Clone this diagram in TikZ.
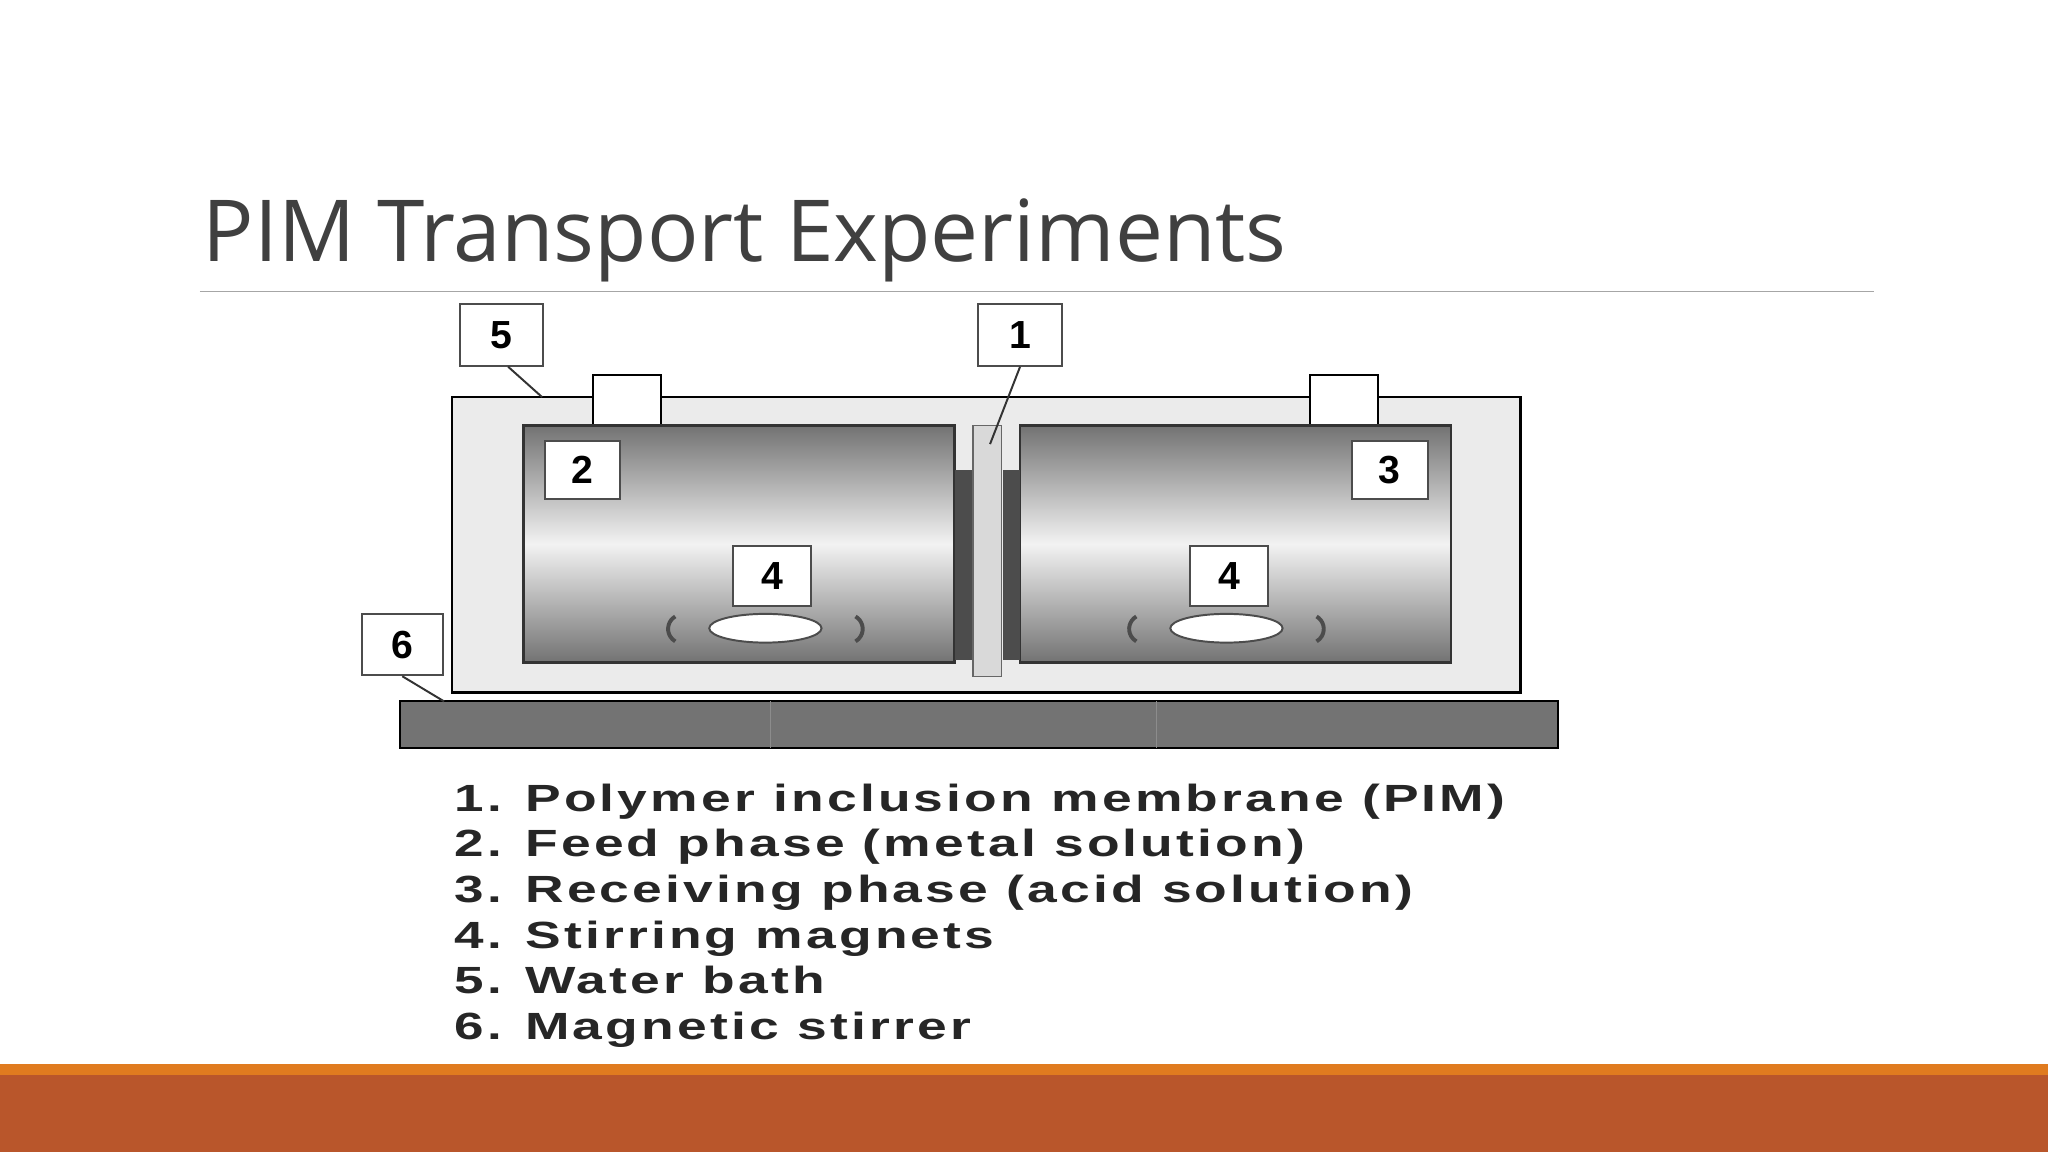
\documentclass[tikz,border=0pt]{standalone}
\usepackage{fontspec}
\setmainfont{Liberation Sans}
\newfontfamily\titlefont{Open Sans}
\definecolor{rust}{HTML}{B9562B}
\definecolor{orng}{HTML}{E07B1F}
\begin{document}
\begin{tikzpicture}[x=1pt,y=-1pt,
  lbl/.style={draw=black!70,line width=1.5pt,fill=white,minimum width=58pt,minimum height=44pt,inner sep=0pt,font=\fontsize{30}{30}\selectfont\bfseries},
  tank/.style={draw=black!80,line width=2pt,top color=black!55,bottom color=black!55,middle color=black!5},
  lead/.style={draw=black!80,line width=1.5pt},
  legt/.style={anchor=base west,inner sep=0pt,text=black!85,font=\fontsize{29}{29}\selectfont\bfseries}]
\useasboundingbox (0,0) rectangle (1568,882);
\fill[white] (0,0) rectangle (1568,882);
\node[anchor=base west,inner sep=0pt,text=black!75] (title) at (155,200) {\titlefont\fontsize{65.5}{66}\selectfont PIM Transport Experiments};
\draw[black!35,line width=1pt] (153,223) -- (1435,223);
\fill[orng] (0,815) rectangle (1568,823);
\fill[rust] (0,823) rectangle (1568,882);
% bath
\draw[fill=black!8,line width=2pt] (346,304) rectangle (1164,530);
\draw[fill=white,line width=2pt] (454,287) rectangle (506,326);
\draw[fill=white,line width=2pt] (1003,287) rectangle (1055,326);
\node[tank,minimum width=330pt,minimum height=181pt,inner sep=0pt] (lt) at (566,416.5) {};
\node[tank,minimum width=330pt,minimum height=181pt,inner sep=0pt] (rt) at (946,416.5) {};
\fill[black!70] (731,360) rectangle (744,505);
\fill[black!70] (768,360) rectangle (781,505);
\node[draw=black!60,fill=black!15,line width=1pt,minimum width=22pt,minimum height=192pt,inner sep=0pt] (mem) at (756,422) {};
% stirrer
\draw[fill=black!55,line width=1.5pt] (306,537) rectangle (1193,573);
\draw[black!45] (590,537)--(590,573) (885,537)--(885,573);
% magnets
\foreach \c in {586,939}{
  \draw[fill=white,draw=black!70,line width=1.5pt] (\c,481) ellipse (43pt and 11pt);
  \draw[black!70,line width=3pt] (\c-69,472) arc (120:240:11pt);
  \draw[black!70,line width=3pt] (\c+69,472) arc (60:-60:11pt);
}
% labels
\node[lbl,minimum width=64pt,minimum height=47pt] (l5) at (384,256.5) {5};
\node[lbl,minimum width=64pt,minimum height=47pt] (l1) at (781,256.5) {1};
\node[lbl] (l2) at (446,360) {2};
\node[lbl] (l3) at (1064,360) {3};
\node[lbl,minimum width=60pt,minimum height=46pt] (l4a) at (591,441) {4};
\node[lbl,minimum width=60pt,minimum height=46pt] (l4b) at (941,441) {4};
\node[lbl,minimum width=62pt,minimum height=47pt] (l6) at (308,493.5) {6};
\coordinate (p5) at (415,304);
\coordinate (p1) at (758,340);
\coordinate (p6) at (340,537);
\draw[lead] (l5.south) ++(5,0) -- (p5);
\draw[lead] (l1.south) -- (p1);
\draw[lead] (l6.south) -- (p6);
% legend
\foreach \i/\t in {1/{Polymer inclusion membrane (PIM)},2/{Feed phase (metal solution)},3/{Receiving phase (acid solution)},4/{Stirring magnets},5/{Water bath},6/{Magnetic stirrer}}{
  \node[legt] (num\i) at (348,586+35*\i) {\scalebox{1.4}[1]{\addfontfeatures{LetterSpace=6}\i.}};
  \node[legt] (leg\i) at (402,586+35*\i) {\scalebox{1.41}[1]{\addfontfeatures{LetterSpace=6}\t}};
}
\end{tikzpicture}
\end{document}
